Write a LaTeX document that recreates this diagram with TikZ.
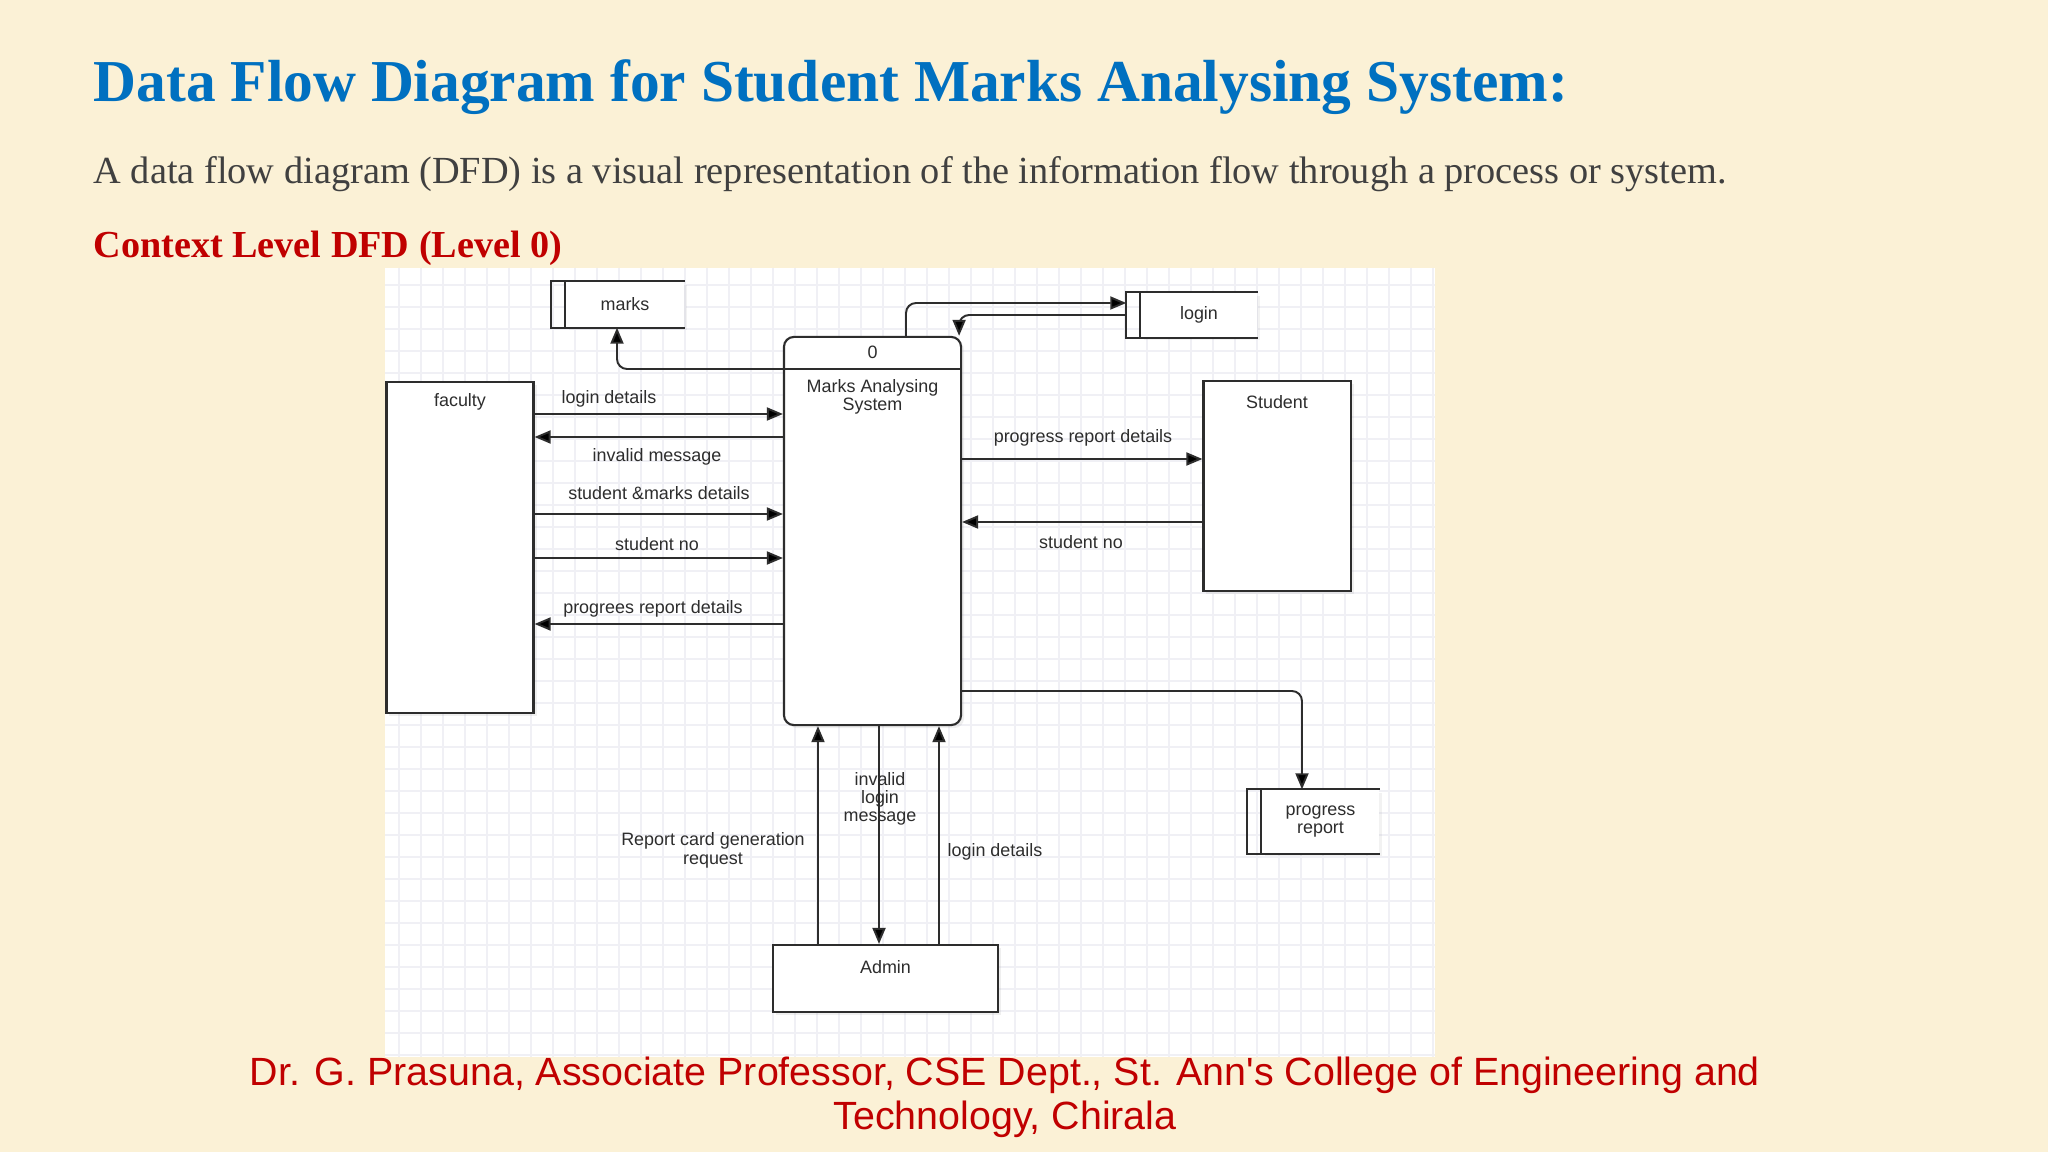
\documentclass[tikz,border=0pt]{standalone}
\usepackage{fontspec}
\setmainfont{Liberation Serif}
\newfontfamily\diafont{Liberation Sans}
\newfontfamily\footfont{Liberation Sans}
\usetikzlibrary{arrows.meta, positioning, calc, shadows}
\definecolor{TitleBlue}{RGB}{0,112,192}
\definecolor{DarkRed}{RGB}{192,0,0}
\definecolor{BodyGray}{RGB}{64,64,64}
\definecolor{Parchment}{RGB}{251,241,214}
\definecolor{GridGray}{RGB}{240,240,245}
\definecolor{InkGray}{RGB}{45,45,45}

\tikzset{
	entity/.style={draw=InkGray, line width=0.6pt, fill=white, rectangle, inner sep=0pt,
		drop shadow={opacity=0.12, shadow xshift=0.03cm, shadow yshift=-0.03cm}},
	process/.style={entity, rounded corners=0.1cm},
	store/.style={fill=white, inner sep=0pt, text=InkGray, align=center,
		drop shadow={opacity=0.10, shadow xshift=0.03cm, shadow yshift=-0.03cm}},
	flow/.style={draw=InkGray, line width=0.55pt, rounded corners=0.1cm,
		-{Triangle[length=0.16cm,width=0.13cm,fill=black]}},
	lbl/.style={text=InkGray, inner sep=0pt, align=center},
}

\begin{document}
\begin{tikzpicture}[x=0.01cm, y=-0.01cm, font=\diafont\fontsize{5.1}{5.2}\selectfont]
	% fondo y hoja cuadriculada
	\useasboundingbox (0,0) rectangle (2048,1152);
	\fill[Parchment] (0,0) rectangle (2048,1152);
	\fill[white] (385,268) rectangle (1435,1057);
	\begin{scope}
		\clip (385,268) rectangle (1435,1057);
		\foreach \gx in {399,421,...,1435}
			\draw[GridGray, line width=0.35pt] (\gx,268) -- (\gx,1057);
		\foreach \gy in {285,307,...,1057}
			\draw[GridGray, line width=0.35pt] (385,\gy) -- (1435,\gy);
	\end{scope}

	% encabezados
	\node[anchor=base west, inner sep=0pt, text=TitleBlue,
		font=\rmfamily\bfseries\fontsize{16.9}{20}\selectfont] (title) at (93,102)
		{Data Flow Diagram for Student Marks Analysing System:};
	\node[anchor=base west, inner sep=0pt, text=BodyGray,
		font=\rmfamily\fontsize{10.9}{13}\selectfont] (intro) at (93,184)
		{A data flow diagram (DFD) is a visual representation of the information flow through a process or system.};
	\node[anchor=base west, inner sep=0pt, text=DarkRed,
		font=\rmfamily\bfseries\fontsize{10.85}{13}\selectfont] (level) at (93,258)
		{Context Level DFD (Level 0)};

	% entidades externas
	\node[entity, minimum width=1.47cm, minimum height=3.31cm] (fac) at (460,547.5) {};
	\node[lbl] (facl) at (460,402) {faculty};
	\node[entity, minimum width=1.47cm, minimum height=2.09cm] (stu) at (1277,486) {};
	\node[lbl] (stul) at (1277,402) {Student};
	\node[entity, minimum width=2.25cm, minimum height=0.67cm] (admin) at (885.5,978.5) {};
	\node[lbl] (adminl) at (885.5,967) {Admin};

	% proceso 0
	\node[process, minimum width=1.77cm, minimum height=3.88cm] (proc) at (872.5,531) {};
	\draw[InkGray, line width=0.6pt] (proc.west |- 0,369) -- (proc.east |- 0,369);
	\node[lbl] (pnum) at (872.5,352) {0};
	\node[lbl] (pname) at (872.5,397) {Marks Analysing\\System};

	% almacenes de datos
	\node[store, minimum width=1.18cm, minimum height=0.45cm] (marks) at (625,304.5) {marks};
	\node[store, minimum width=1.16cm, minimum height=0.44cm] (login) at (1199,315) {login};
	\node[store, minimum width=1.17cm, minimum height=0.63cm] (prog) at (1320.5,821.5) {progress\\report};
	\foreach \s in {marks, login, prog}{
		\draw[InkGray, line width=0.6pt] (\s.north east) -- ([xshift=-0.14cm]\s.north west)
			-- ([xshift=-0.14cm]\s.south west) -- (\s.south east);
		\draw[InkGray, line width=0.6pt] (\s.north west) -- (\s.south west);
	}

	% flujos faculty
	\draw[flow] (fac.east |- 0,414) -- (proc.west |- 0,414);
	\node[lbl] (f1) at (609,399) {login details};
	\draw[flow] (proc.west |- 0,437) -- (fac.east |- 0,437);
	\node[lbl] (f2) at (657,457) {invalid message};
	\draw[flow] (fac.east |- 0,514) -- (proc.west |- 0,514);
	\node[lbl] (f3) at (659,493) {student \&marks details};
	\draw[flow] (fac.east |- 0,558) -- (proc.west |- 0,558);
	\node[lbl] (f4) at (657,544) {student no};
	\draw[flow] (proc.west |- 0,624) -- (fac.east |- 0,624);
	\node[lbl] (f5) at (653,609) {progrees report details};

	% flujos Student
	\draw[flow] (proc.east |- 0,459) -- (stu.west |- 0,459);
	\node[lbl] (s1) at (1083,438) {progress report details};
	\draw[flow] (stu.west |- 0,522) -- (proc.east |- 0,522);
	\node[lbl] (s2) at (1081,542) {student no};

	% flujos a los almacenes
	\draw[flow] (proc.west |- 0,369) -| ([xshift=-0.08cm]marks.south);
	\draw[flow] ([xshift=0.335cm]proc.north) |- ([xshift=-0.14cm,yshift=0.12cm]login.west);
	\draw[flow] ([xshift=-0.14cm]login.west) -| ([xshift=-0.03cm]proc.north east);
	\draw[flow] (proc.east |- 0,691) -| ([xshift=-0.185cm]prog.north);

	% flujos Admin
	\draw[flow] (admin.north -| 818,0) -- (proc.south -| 818,0);
	\node[lbl] (a1) at (713,850.5) {Report card generation\\request};
	\draw[flow] (proc.south -| 879,0) -- (admin.north -| 879,0);
	\node[lbl] (a2) at (880,799) {invalid\\login\\message};
	\draw[flow] (admin.north -| 939,0) -- (proc.south -| 939,0);
	\node[lbl] (a3) at (995,852) {login details};

	% pie
	\node[anchor=base, inner sep=0pt, text=DarkRed,
		font=\footfont\fontsize{11.2}{13}\selectfont] (footA) at (1005,1085)
		{Dr. G. Prasuna, Associate Professor, CSE Dept., St. Ann's College of Engineering and};
	\node[anchor=base, inner sep=0pt, text=DarkRed,
		font=\footfont\fontsize{11.2}{13}\selectfont] (footB) at (1005,1129)
		{Technology, Chirala};
\end{tikzpicture}
\end{document}
